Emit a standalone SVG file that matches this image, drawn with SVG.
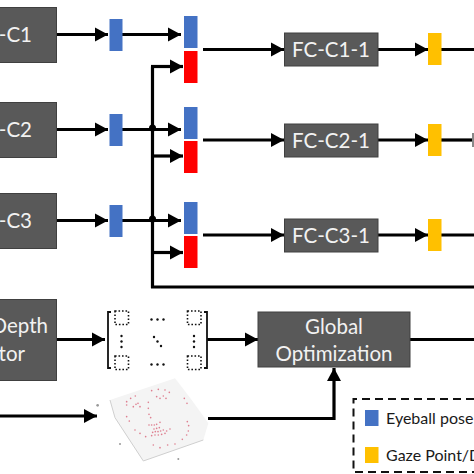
<svg xmlns="http://www.w3.org/2000/svg" width="474" height="474" viewBox="0 0 474 474">
<style>
text{font-family:"Lato","Open Sans","Liberation Sans",sans-serif}
.b{fill:#595959;stroke:#404040;stroke-width:1}
.t{fill:#f2f2f2;font-size:20.500px}
.m{text-anchor:middle}
.e{text-anchor:end}
.l{fill:none;stroke:#000;stroke-width:3.200}
.blue{fill:#4472c4}
.red{fill:#f00}
.yel{fill:#ffc000}
.leg{fill:#1a1a1a;font-size:16px}
.p{fill:#de7f90}
.p circle{r:2.500px}
</style>
<defs>
<marker id="a" markerUnits="userSpaceOnUse" markerWidth="14" markerHeight="15" refX="13" refY="7.500" orient="auto"><path d="M0 .5L13 7.500L0 14.500Z" fill="#000"/></marker>
</defs>
<rect width="474" height="474" fill="#fff"/>
<g id="connectors">
<path class="l" marker-end="url(#a)" d="M56 34.500H108"/>
<path class="l" marker-end="url(#a)" d="M122 34.500H181"/>
<path class="l" marker-end="url(#a)" d="M56 129.500H108"/>
<path class="l" marker-end="url(#a)" d="M122 129.500H181"/>
<path class="l" marker-end="url(#a)" d="M56 220.500H108"/>
<path class="l" marker-end="url(#a)" d="M122 220.500H181"/>
<path class="l" d="M152.500 288V66.500"/>
<path class="l" d="M151 287H474"/>
<path class="l" marker-end="url(#a)" d="M151 66.500H183"/>
<path class="l" marker-end="url(#a)" d="M151 156H183"/>
<path class="l" marker-end="url(#a)" d="M151 252.500H183"/>
<circle cx="152.500" cy="128" r="3.500"/>
<circle cx="152.500" cy="219" r="3.500"/>
<path class="l" marker-end="url(#a)" d="M203 49.500H284"/>
<path class="l" marker-end="url(#a)" d="M203 140H284"/>
<path class="l" marker-end="url(#a)" d="M203 235H284"/>
<path class="l" marker-end="url(#a)" d="M377 49.500H428"/>
<path class="l" marker-end="url(#a)" d="M377 140H428"/>
<path class="l" marker-end="url(#a)" d="M377 235H428"/>
<path class="l" d="M441 49.500H474"/>
<path class="l" d="M441 140H472"/>
<path class="l" d="M441 235H474"/>
<path class="l" marker-end="url(#a)" d="M56 339.500H105"/>
<path class="l" marker-end="url(#a)" d="M207 339.500H258"/>
<path class="l" d="M410 339.500H474"/>
<path class="l" marker-end="url(#a)" d="M0 416H97"/>
<path class="l" marker-end="url(#a)" d="M208 418.500H334V368"/>
</g>
<g id="fc-c1"><rect class="b" x="-5" y="7.500" width="61.500" height="55"/><text class="t e" x="32" y="41.500">-C1</text></g>
<g id="fc-c2"><rect class="b" x="-5" y="102.500" width="61.500" height="55"/><text class="t e" x="32" y="136.500">-C2</text></g>
<g id="fc-c3"><rect class="b" x="-5" y="193.500" width="61.500" height="55"/><text class="t e" x="32" y="227.500">-C3</text></g>
<g id="depth"><rect class="b" x="-5" y="299.500" width="61.500" height="81"/><text class="t e" x="48" y="333">Depth</text><text class="t e" x="25" y="361">tor</text></g>
<g id="feat-c1"><rect class="blue" x="109.500" y="19" width="13" height="32"/></g>
<g id="feat-c2"><rect class="blue" x="109.500" y="114" width="13" height="32"/></g>
<g id="feat-c3"><rect class="blue" x="109.500" y="205" width="13" height="32"/></g>
<g id="pair-c1"><rect class="blue" x="184" y="16" width="13.500" height="32"/><rect class="red" x="184" y="51" width="13.500" height="32"/></g>
<g id="pair-c2"><rect class="blue" x="184" y="107" width="13.500" height="32"/><rect class="red" x="184" y="141" width="13.500" height="32"/></g>
<g id="pair-c3"><rect class="blue" x="184" y="202" width="13.500" height="32"/><rect class="red" x="184" y="236" width="13.500" height="32"/></g>
<g id="fc-c1-1"><rect class="b" x="284.500" y="33" width="93.500" height="33"/><text class="t m" x="331" y="57">FC-C1-1</text></g>
<g id="fc-c2-1"><rect class="b" x="284.500" y="124" width="93.500" height="33"/><text class="t m" x="331" y="148">FC-C2-1</text></g>
<g id="fc-c3-1"><rect class="b" x="284.500" y="219" width="93.500" height="33"/><text class="t m" x="331" y="243">FC-C3-1</text></g>
<g id="out-c1"><rect class="yel" x="428" y="33" width="13.500" height="32"/></g>
<g id="out-c2"><rect class="yel" x="428" y="124" width="13.500" height="32"/></g>
<g id="out-c3"><rect class="yel" x="428" y="219" width="13.500" height="32"/></g>
<rect x="472" y="133" width="2" height="14" fill="#888"/>
<g id="matrix">
<path d="M111 312H108V368H111M204 312H207V368H204" fill="none" stroke="#111" stroke-width="1.800"/>
<g fill="none" stroke="#111" stroke-width="1.600" stroke-dasharray="1.600 1.900">
<rect x="115" y="311" width="13.500" height="13.500"/><rect x="187.500" y="311" width="13.500" height="13.500"/>
<rect x="115" y="356" width="13.500" height="13.500"/><rect x="187.500" y="356" width="13.500" height="13.500"/>
</g>
<g fill="#111">
<circle cx="151.500" cy="319.500" r="1.200"/><circle cx="157.500" cy="319.500" r="1.200"/><circle cx="163.500" cy="319.500" r="1.200"/>
<circle cx="151.500" cy="364.500" r="1.200"/><circle cx="157.500" cy="364.500" r="1.200"/><circle cx="163.500" cy="364.500" r="1.200"/>
<circle cx="121.500" cy="336" r="1.200"/><circle cx="121.500" cy="341.500" r="1.200"/><circle cx="121.500" cy="347" r="1.200"/>
<circle cx="194" cy="336" r="1.200"/><circle cx="194" cy="341.500" r="1.200"/><circle cx="194" cy="347" r="1.200"/>
<circle cx="154" cy="337" r="1.200"/><circle cx="157.500" cy="341.500" r="1.200"/><circle cx="161" cy="346" r="1.200"/>
</g>
</g>
<g id="global"><rect class="b" x="258" y="312" width="152" height="55"/><text class="t m" x="334" y="333.500">Global</text><text class="t m" x="334" y="361">Optimization</text></g>
<g id="face-plane" transform="translate(0 295) scale(.3333)">
<path d="M330 315L525 250Q580 320 625 385L610 435L430 498L345 368Z" fill="#f4f4f4"/>
<path d="M330 315L345 368L430 498L610 435" fill="none" stroke="#cfcfcf" stroke-width="3"/>
<g class="p">
<circle cx="380" cy="320" r="3"/><circle cx="380" cy="330" r="3"/><circle cx="392" cy="310" r="3"/><circle cx="406" cy="303" r="3"/><circle cx="400" cy="335" r="3"/><circle cx="408" cy="328" r="3"/><circle cx="414" cy="325" r="3"/><circle cx="420" cy="335" r="3"/><circle cx="445" cy="322" r="3"/>
<circle cx="455" cy="287" r="3"/><circle cx="475" cy="283" r="3"/><circle cx="495" cy="285" r="3"/><circle cx="508" cy="292" r="3"/><circle cx="470" cy="305" r="3"/><circle cx="480" cy="310" r="3"/><circle cx="490" cy="303" r="3"/><circle cx="498" cy="310" r="3"/><circle cx="553" cy="310" r="3"/><circle cx="561" cy="325" r="3"/>
<circle cx="380" cy="365" r="3"/><circle cx="388" cy="378" r="3"/><circle cx="405" cy="405" r="3"/><circle cx="420" cy="415" r="3"/><circle cx="437" cy="425" r="3"/><circle cx="460" cy="450" r="3"/><circle cx="480" cy="458" r="3"/><circle cx="503" cy="450" r="3"/><circle cx="525" cy="447" r="3"/><circle cx="547" cy="433" r="3"/><circle cx="560" cy="420" r="3"/><circle cx="565" cy="408" r="3"/><circle cx="566" cy="392" r="3"/><circle cx="562" cy="380" r="3"/>
<circle cx="445" cy="340" r="3"/><circle cx="447" cy="358" r="3"/><circle cx="452" cy="368" r="3"/>
<circle cx="447" cy="390" r="3"/><circle cx="455" cy="390" r="3"/><circle cx="463" cy="390" r="3"/><circle cx="470" cy="388" r="3"/><circle cx="480" cy="382" r="3"/><circle cx="462" cy="402" r="3"/><circle cx="470" cy="400" r="3"/><circle cx="478" cy="398" r="3"/><circle cx="458" cy="412" r="3"/><circle cx="466" cy="410" r="3"/><circle cx="474" cy="410" r="3"/><circle cx="482" cy="408" r="3"/><circle cx="490" cy="405" r="3"/><circle cx="500" cy="408" r="3"/><circle cx="510" cy="402" r="3"/><circle cx="455" cy="422" r="3"/><circle cx="465" cy="420" r="3"/><circle cx="475" cy="420" r="3"/><circle cx="485" cy="418" r="3"/><circle cx="495" cy="415" r="3"/>
</g>
<g fill="#999"><circle cx="293" cy="331" r="4"/><circle cx="360" cy="447" r="3"/><circle cx="535" cy="492" r="3"/></g>
</g>
<g id="legend">
<path d="M474 399H353.500V472H474" fill="none" stroke="#111" stroke-width="2" stroke-dasharray="8 5"/>
<rect class="blue" x="365" y="410" width="13.500" height="16"/>
<rect class="yel" x="365" y="447" width="13.500" height="16"/>
<text class="leg" x="386" y="424">Eyeball pose</text>
<text class="leg" x="386" y="461">Gaze Point/D</text>
</g>
</svg>
